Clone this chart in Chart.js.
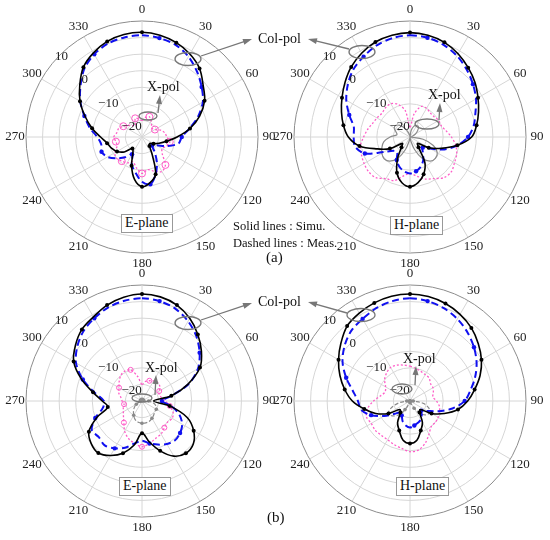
<!DOCTYPE html>
<html>
<head>
<meta charset="utf-8">
<script src="https://cdn.jsdelivr.net/npm/chart.js@4.4.0/dist/chart.umd.min.js"></script>
<style>
  body { margin: 0; width: 550px; height: 540px; position: relative; overflow: hidden; background: #fff;
         font-family: "Liberation Serif", "DejaVu Serif", serif; }
  .plot { position: absolute; width: 300px; height: 300px; }
  .txt { position: absolute; font-size: 13px; color: #111; white-space: nowrap; line-height: 1; }
  .box { position: absolute; border: 1px solid #999; font-size: 14px; padding: 1px 3px; background: #fff; line-height: 1.05; color: #111; }
</style>
</head>
<body>
<div class="plot" style="left:-8px;top:-13px"><canvas id="ea"></canvas></div>
<div class="plot" style="left:260px;top:-13px"><canvas id="ha"></canvas></div>
<div class="plot" style="left:-8px;top:251px"><canvas id="eb"></canvas></div>
<div class="plot" style="left:260px;top:251px"><canvas id="hb"></canvas></div>

<div class="txt" style="left:258px;top:32px;font-size:14px">Col-pol</div>
<div class="txt" style="left:258px;top:295px;font-size:14px">Col-pol</div>
<div class="txt" style="left:147px;top:80px;font-size:14px">X-pol</div>
<div class="txt" style="left:428px;top:88px;font-size:14px">X-pol</div>
<div class="txt" style="left:145px;top:361px;font-size:14px">X-pol</div>
<div class="txt" style="left:403px;top:352px;font-size:14px">X-pol</div>
<div class="box" style="left:121px;top:214px">E-plane</div>
<div class="box" style="left:390px;top:216px">H-plane</div>
<div class="box" style="left:119px;top:477px">E-plane</div>
<div class="box" style="left:396px;top:477px">H-plane</div>
<div class="txt" style="left:233px;top:220px;font-size:12.5px">Solid lines : Simu.</div>
<div class="txt" style="left:233px;top:237px;font-size:12.5px">Dashed lines : Meas.</div>
<div class="txt" style="left:266px;top:250px;font-size:15px">(a)</div>
<div class="txt" style="left:267px;top:510px;font-size:15px">(b)</div>

<script>
// angle every 10 degrees, values in dB
const angles = [0,10,20,30,40,50,60,70,80,90,100,110,120,130,140,150,160,170,
                180,190,200,210,220,230,240,250,260,270,280,290,300,310,320,330,340,350];
const angleTicks = [0,30,60,90,120,150,180,210,240,270,300,330];
const radialTicks = [10, 0, -10, -20];

// (a) E-plane
const eaSimCo  = [6.6,6.2,5.3,3.9,2.0,-0.9,-3.2,-6.5,-10.3,-14.4,-17.5,-19.5,-21,-22,-21.5,-18.8,-13,-11,
                  -10,-12,-15.8,-19.5,-20.5,-18,-16.3,-15.2,-14.3,-12.5,-9.7,-6.7,-3.4,-0.5,2.5,4.3,5.7,6.4];
const eaMeasCo = [5.7,5.3,4.6,3.0,0.8,-1.5,-3.8,-7,-10.5,-13,-13.8,-17,-20,-21,-19,-16,-13,-10.5,
                  -11.5,-14,-16,-19,-17,-15,-13,-12,-12.5,-11.5,-9,-6.5,-3.5,-0.8,2,3.8,5,5.5];
const eaMeasX  = [-20,-19,-18.5,-19.5,-20.5,-21,-20.5,-19,-18,-17.5,-16.5,-17,-18,-17,-14,-13,-14,-15,
                  -14,-15.5,-17,-16,-15.5,-15,-15.5,-17,-17,-16.5,-17.3,-17.5,-18.5,-19.5,-20.5,-21,-19,-19.5];

// (a) H-plane
const haSimCo  = [6.5,6.2,5.4,4.0,2.3,0.6,-1.3,-3.0,-4.6,-6.4,-10.5,-15,-18.5,-22,-21,-16,-13,-11,
                  -10,-11,-13.5,-17.5,-21,-22,-18,-14.5,-9.5,-6.4,-4.6,-3.0,-1.3,0.6,2.6,4.2,5.5,6.2];
const haMeasCo = [5.7,5.4,4.6,3.3,1.6,-0.2,-2,-4,-5.5,-7.5,-10.5,-14,-18,-20,-19,-17,-15.5,-14.5,
                  -14,-14.5,-15.5,-17,-19,-18.5,-16,-10.5,-8.2,-8,-7.8,-5.5,-2.8,-0.5,1.6,3.0,4.4,5.3];
const haMeasX  = [-22,-18,-15.2,-15,-15.5,-15.5,-15,-15,-14,-12.5,-11,-10,-9.5,-8.7,-9,-10.5,-11.5,-13,
                  -14,-13,-11,-10.5,-9,-8.7,-9,-9.4,-9.8,-11,-12,-13,-13.5,-13.9,-13.5,-13.4,-14.5,-17];
const haSimX   = [-25,-23,-21.5,-21,-21,-22,-23,-24,-24.5,-25,-21,-17.5,-15.5,-15,-15.5,-17.5,-21,-24,
                  -25,-24,-21,-17.5,-15.5,-14.8,-15.2,-16,-17,-19,-21,-20.5,-19.5,-19.5,-20.5,-22,-23.5,-24.5];

// (b) E-plane
const ebSimCo  = [7.3,6.9,5.8,3.8,1.2,-1.6,-4.8,-10.3,-16,-21.5,-16.5,-10.5,-7,-4.8,-4.4,-5.8,-9,-12.5,
                  -15.3,-11.5,-8.2,-6,-4.5,-5,-6.5,-10.5,-14.5,-13,-10,-5.5,-1.2,1.2,3.2,4.3,5.8,6.8];
const ebMeasCo = [6.0,5.6,4.6,2.8,0.5,-2.3,-5.5,-10,-16,-19,-16,-13,-11,-10,-9.5,-10,-11,-12,
                  -13,-12,-10,-8.5,-7.5,-8,-7.5,-10,-13,-13.5,-10.5,-6,-2,0.5,2.5,3.8,5,5.7];
const ebMeasX  = [-20,-19,-18.5,-18,-17.7,-18,-19,-19.5,-19,-18,-16.5,-15,-14.5,-15,-14.5,-13.5,-13,-12,
                  -11.2,-12,-13,-14.5,-16.5,-17.7,-18.5,-19,-19.5,-19,-18.5,-17.5,-17,-16,-15,-14.6,-15,-17.5];
const ebSimX   = [-24.5,-24.5,-24.5,-24.5,-24.5,-24.5,-24.5,-24.5,-24,-23,-21.5,-20.5,-20,-20,-19.5,-19,-18.5,-18.3,
                  -18.3,-18.5,-19,-20,-21,-22,-23,-24,-24.5,-24.5,-24.5,-24.5,-24.5,-24.5,-24.5,-24.5,-24.5,-24.5];

// (b) H-plane
const hbSimCo  = [7.3,7.0,6.3,5.2,3.8,1.9,-0.1,-2.5,-5.2,-7.6,-10.3,-14,-17.5,-21,-20.5,-17.5,-15.5,-13,
                  -12.2,-13,-15.5,-17.5,-20.5,-21,-17.5,-14,-11,-7.6,-5,-2.5,-0.1,2.2,4.5,5.6,6.5,7.1];
const hbMeasCo = [6.0,5.6,4.8,3.6,2.0,0.2,-1.8,-4.1,-6.5,-8.5,-12,-16,-19,-20.5,-19.5,-18.5,-18,-17.5,
                  -17,-17.5,-18.5,-20,-20.5,-19,-16,-12.5,-10,-9.3,-7.5,-4.5,-1.5,0.8,2.6,3.6,4.8,5.6];
const hbMeasX  = [-14.5,-15,-15.5,-15.8,-16,-16.9,-17,-17.5,-18,-17,-16,-15.5,-15.2,-15,-15,-13.5,-11.5,-10,
                  -9.7,-10.5,-11,-11.5,-11.5,-11.3,-11.5,-11,-12,-14,-16,-17,-16.5,-15,-14,-13.3,-13.5,-14];
const hbSimX   = [-25,-25,-25,-25,-25,-25,-25,-25,-24.5,-24,-21,-19,-18.2,-18.5,-20,-22.5,-24,-24.5,
                  -24.5,-24.5,-24,-22,-19.5,-18,-17.5,-19,-21.5,-24,-24.5,-25,-25,-25,-25,-25,-25,-25];

const GRID = '#d6d6d6';
const PINK = '#ff5cc8';

const polarText = {
  id: 'polarText',
  afterDraw(chart) {
    const s = chart.scales.r;
    const ctx = chart.ctx;
    ctx.save();
    ctx.font = '13px "Liberation Serif", serif';
    ctx.fillStyle = '#222';
    ctx.textAlign = 'center';
    ctx.textBaseline = 'middle';
    angleTicks.forEach(a => {
      const p = s.getPointPosition(a / 10, s.drawingArea + 11);
      ctx.fillText(String(a), p.x, p.y);
    });
    radialTicks.forEach(v => {
      const d = s.getDistanceFromCenterForValue(v) - 2;
      const txt = v < 0 ? '\u2212' + Math.abs(v) : String(v);
      ctx.fillText(txt, s.xCenter - d * Math.SQRT1_2, s.yCenter - d * Math.SQRT1_2);
    });
    const an = chart.options.plugins.polarText || {};
    ctx.strokeStyle = '#777';
    ctx.fillStyle = '#777';
    ctx.lineWidth = 1.3;
    (an.ellipses || []).forEach(e => {
      ctx.beginPath();
      ctx.ellipse(s.xCenter + e[0], s.yCenter + e[1], e[2], e[3], 0, 0, Math.PI * 2);
      ctx.stroke();
    });
    (an.arrows || []).forEach(a => {
      const x1 = s.xCenter + a[0], y1 = s.yCenter + a[1];
      const x2 = s.xCenter + a[2], y2 = s.yCenter + a[3];
      const ang = Math.atan2(y2 - y1, x2 - x1);
      ctx.beginPath();
      ctx.moveTo(x1, y1);
      ctx.lineTo(x2 - 6 * Math.cos(ang), y2 - 6 * Math.sin(ang));
      ctx.stroke();
      ctx.beginPath();
      ctx.moveTo(x2, y2);
      ctx.lineTo(x2 - 9 * Math.cos(ang) + 3 * Math.sin(ang), y2 - 9 * Math.sin(ang) - 3 * Math.cos(ang));
      ctx.lineTo(x2 - 9 * Math.cos(ang) - 3 * Math.sin(ang), y2 - 9 * Math.sin(ang) + 3 * Math.cos(ang));
      ctx.closePath();
      ctx.fill();
    });
    ctx.restore();
  }
};

function simCo(data) {
  return { label: 'Simu. Co-pol', data, borderColor: '#000', borderWidth: 1.6, tension: 0.35, fill: false,
           pointRadius: c => c.dataIndex % 2 === 0 ? 2 : 0, pointBackgroundColor: '#000', pointBorderWidth: 0 };
}
function measCo(data) {
  return { label: 'Meas. Co-pol', data, borderColor: '#1010f0', borderWidth: 2, borderDash: [7, 4], tension: 0.3, fill: false,
           pointRadius: c => c.dataIndex % 4 === 1 ? 2.2 : 0, pointBackgroundColor: '#1010f0', pointBorderWidth: 0 };
}
function measX(data, marks) {
  return { label: 'Meas. X-pol', data, borderColor: PINK, borderWidth: 1.3, borderDash: [2, 2], tension: 0.3, fill: false,
           pointRadius: c => marks && c.dataIndex % 4 === 2 ? marks : 0, pointBackgroundColor: 'rgba(0,0,0,0)',
           pointBorderColor: PINK, pointBorderWidth: 1 };
}
function simX(data, dashed) {
  return { label: 'Simu. X-pol', data, borderColor: '#8a8a8a', borderWidth: 1.2, borderDash: dashed ? [4, 2] : [],
           tension: 0.35, fill: false,
           pointRadius: c => dashed && c.dataIndex % 3 === 0 ? 1.8 : 0, pointBackgroundColor: '#8a8a8a', pointBorderWidth: 0 };
}

function makePlot(id, datasets, annot) {
  new Chart(document.getElementById(id), {
    type: 'radar',
    data: { labels: angles, datasets },
    options: {
      responsive: true,
      maintainAspectRatio: false,
      animation: false,
      layout: { padding: 34 },
      plugins: { legend: { display: false }, tooltip: { enabled: false }, polarText: annot },
      scales: {
        r: {
          min: -25, max: 10, startAngle: 0,
          ticks: { display: false, stepSize: 5 },
          pointLabels: { display: false },
          grid: { circular: true, color: c => c.tick && c.tick.value === 10 ? '#8c8c8c' : GRID, lineWidth: 1 },
          angleLines: { color: c => c.index % 3 === 0 ? GRID : 'rgba(0,0,0,0)', lineWidth: 1 }
        }
      }
    },
    plugins: [polarText]
  });
}

makePlot('ea', [simCo(eaSimCo), measCo(eaMeasCo), measX(eaMeasX, 3.5)],
  { ellipses: [[46, -78, 13, 6.5], [6, -21, 9, 4]], arrows: [[59, -81, 110, -98], [16, -24, 18, -42]] });
makePlot('ha', [simCo(haSimCo), measCo(haMeasCo), measX(haMeasX, 0), simX(haSimX, false)],
  { ellipses: [[-48, -85, 13, 6.5], [17, -13, 12, 5]], arrows: [[-61, -88, -102, -98], [29, -17, 30, -34]] });
makePlot('eb', [simCo(ebSimCo), measCo(ebMeasCo), measX(ebMeasX, 2.5), simX(ebSimX, true)],
  { ellipses: [[46, -78, 13, 6.5], [0, -3, 10, 4]], arrows: [[59, -81, 110, -98], [13, -6, 14, -26]] });
makePlot('hb', [simCo(hbSimCo), measCo(hbMeasCo), measX(hbMeasX, 0), simX(hbSimX, true)],
  { ellipses: [[-49, -86, 14, 6.5], [-8, -12, 10, 5]], arrows: [[-63, -88, -102, -99], [5, -16, 6, -35]] });
</script>
</body>
</html>
